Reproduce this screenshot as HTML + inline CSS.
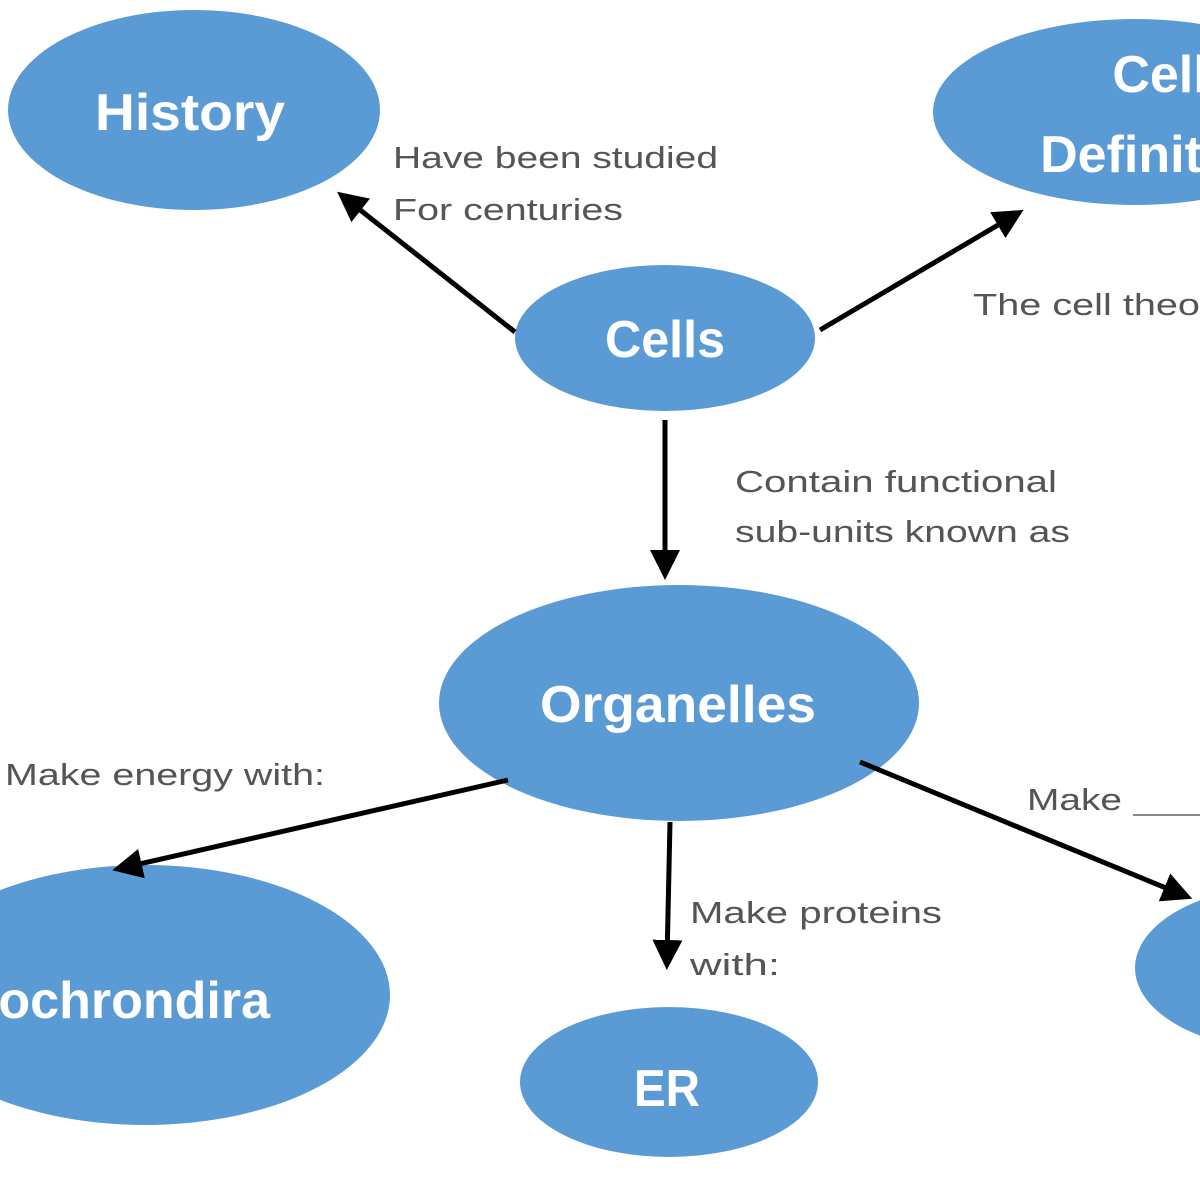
<!DOCTYPE html>
<html><head><meta charset="utf-8"><style>
html,body{margin:0;padding:0;background:#fff;}
svg{display:block}
.n{font-family:"Liberation Sans",sans-serif;fill:#fff;font-size:52px;font-weight:bold;text-anchor:middle;}
.l{font-family:"Liberation Sans",sans-serif;fill:#555;font-size:31px;}
</style></head><body>
<svg width="1200" height="1200" viewBox="0 0 1200 1200" xmlns="http://www.w3.org/2000/svg">
<defs><marker id="a" markerWidth="6" markerHeight="6" refX="4" refY="3" orient="auto" markerUnits="strokeWidth"><path d="M0,0 L6,3 L0,6 z" fill="#000"/></marker></defs>
<g fill="#5b9bd5">
<ellipse cx="194" cy="110" rx="186" ry="100"/>
<ellipse cx="1135" cy="112" rx="202" ry="93"/>
<ellipse cx="665" cy="338" rx="150" ry="73"/>
<ellipse cx="679" cy="703" rx="240" ry="118"/>
<ellipse cx="145" cy="995" rx="245" ry="130"/>
<ellipse cx="669" cy="1082" rx="149" ry="75"/>
<ellipse cx="1285" cy="968" rx="150" ry="82"/>
</g>
<g stroke="#000" stroke-width="5" fill="none" marker-end="url(#a)">
<line x1="515" y1="332" x2="345" y2="198"/>
<line x1="820" y1="330" x2="1015" y2="215"/>
<line x1="665" y1="420" x2="665" y2="570"/>
<line x1="508" y1="780" x2="122" y2="868"/>
<line x1="670" y1="822" x2="667" y2="960"/>
<line x1="860" y1="762" x2="1183" y2="895"/>
</g>
<text class="n" x="190" y="130" textLength="190" lengthAdjust="spacingAndGlyphs">History</text>
<text class="n" x="1160" y="92">Cell</text>
<text class="n" x="1160" y="172">Definition</text>
<text class="n" x="665" y="357" textLength="120" lengthAdjust="spacingAndGlyphs">Cells</text>
<text class="n" x="678" y="722" textLength="276" lengthAdjust="spacingAndGlyphs">Organelles</text>
<text class="n" x="270" y="1018" style="text-anchor:end">Mitochrondira</text>
<text class="n" x="667" y="1106" textLength="66" lengthAdjust="spacingAndGlyphs">ER</text>
<text class="l" x="393" y="168" textLength="325" lengthAdjust="spacingAndGlyphs">Have been studied</text>
<text class="l" x="393" y="220" textLength="230" lengthAdjust="spacingAndGlyphs">For centuries</text>
<text class="l" x="973" y="315" textLength="260" lengthAdjust="spacingAndGlyphs">The cell theory</text>
<text class="l" x="735" y="492" textLength="322" lengthAdjust="spacingAndGlyphs">Contain functional</text>
<text class="l" x="735" y="542" textLength="335" lengthAdjust="spacingAndGlyphs">sub-units known as</text>
<text class="l" x="5" y="785" textLength="320" lengthAdjust="spacingAndGlyphs">Make energy with:</text>
<text class="l" x="1027" y="810" textLength="95" lengthAdjust="spacingAndGlyphs">Make</text>
<line x1="1133" y1="815" x2="1200" y2="815" stroke="#888" stroke-width="2"/>
<text class="l" x="690" y="923" textLength="252" lengthAdjust="spacingAndGlyphs">Make proteins</text>
<text class="l" x="690" y="975" textLength="90" lengthAdjust="spacingAndGlyphs">with:</text>
</svg>
</body></html>
